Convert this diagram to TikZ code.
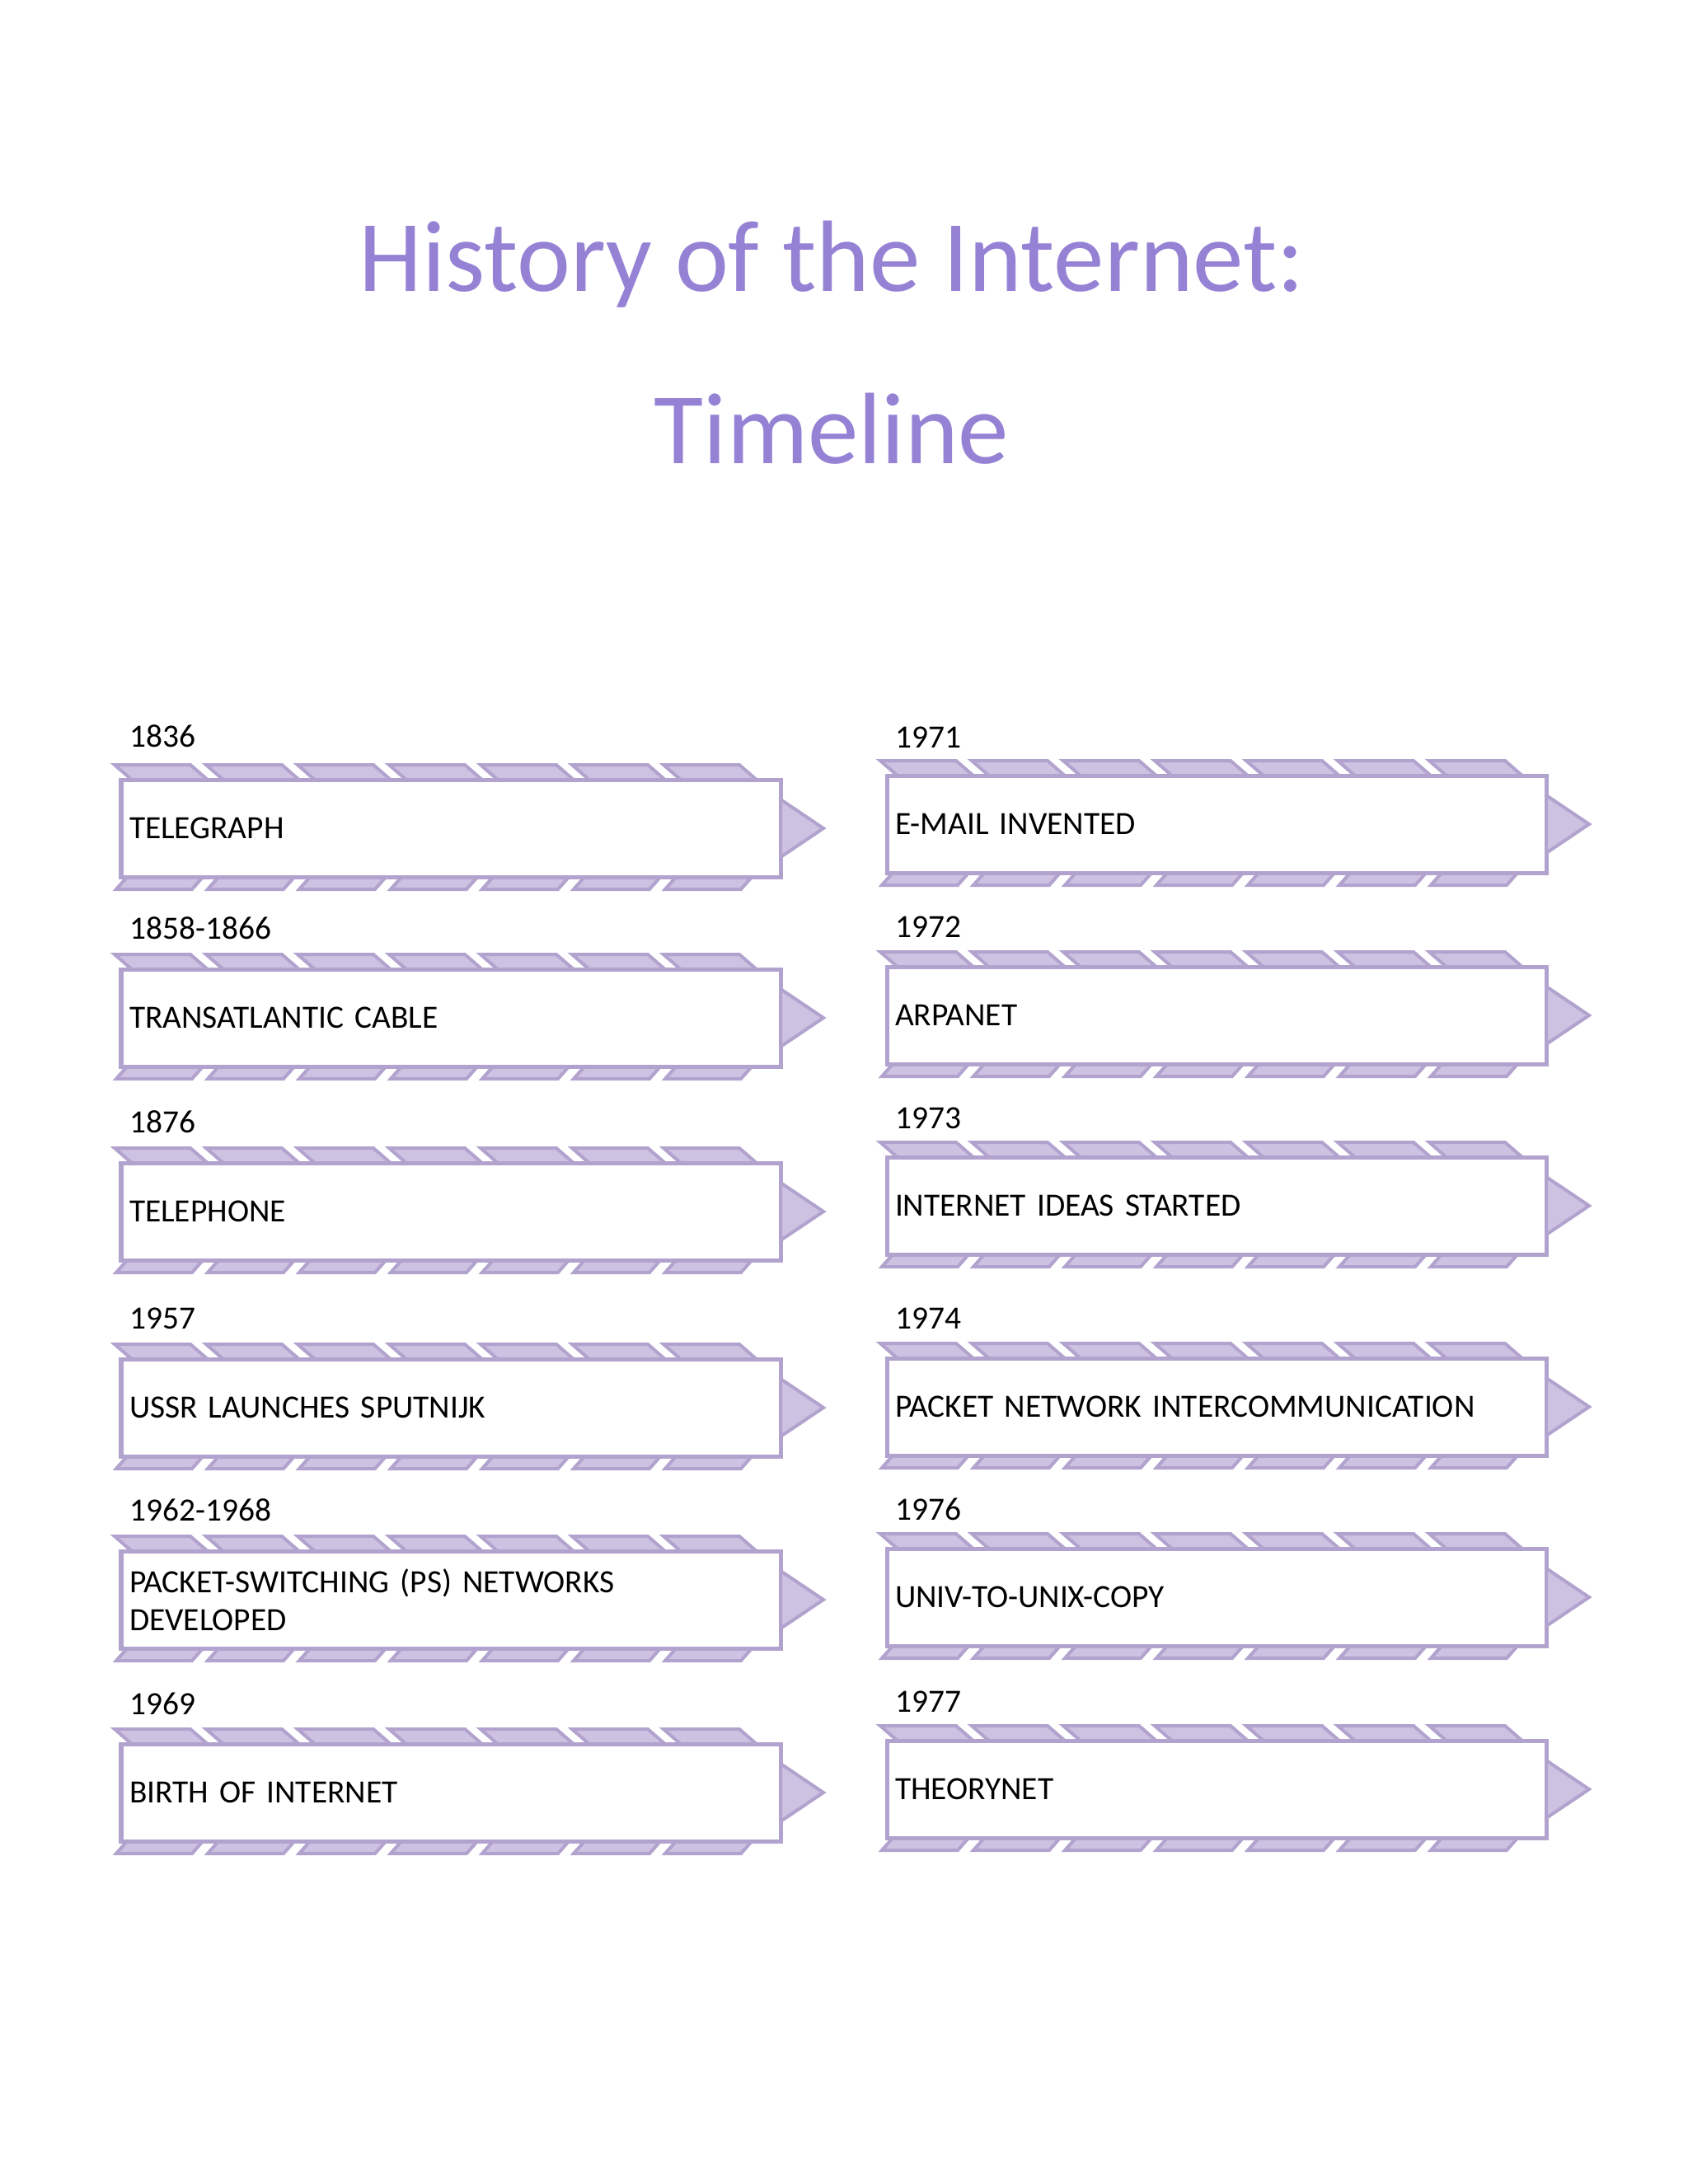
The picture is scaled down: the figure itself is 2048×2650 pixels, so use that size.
\documentclass[tikz,border=0pt]{standalone}
\usepackage{fontspec}
\setmainfont{Carlito}
\definecolor{tlborder}{RGB}{178,162,206}
\definecolor{tlfill}{RGB}{206,194,226}
\definecolor{titlecol}{RGB}{150,130,212}
\tikzset{
  tlbox/.style={draw=tlborder, line width=0.05cm, fill=white, rectangle, anchor=north west,
    minimum width=8cm, minimum height=1.18cm, text width=7.8cm, inner xsep=0.1cm, inner ysep=0pt,
    outer sep=0pt, align=left, font=\fontsize{11.2pt}{13.1pt}\selectfont},
  tltab/.style={draw=tlborder, fill=tlfill, line width=0.04cm, line join=miter},
  tlyear/.style={anchor=base west, inner sep=0pt, font=\fontsize{11.2pt}{13.1pt}\selectfont},
  titletext/.style={text=titlecol, font=\fontsize{35pt}{40pt}\selectfont}
}
% #1 name, #2 x, #3 box top, #4 year baseline, #5 year, #6 text
\newcommand\tlitem[6]{%
  \foreach \i in {0,...,6}{%
    \draw[tltab] ({#2-8+\i*111},{#3-18}) -- ++(92,0) -- ++(23,20) -- ++(-92,0) -- cycle;
    \draw[tltab] ({#2-6+\i*111},{#3+118+15}) -- ++(92,0) -- ++(15,-17) -- ++(-92,0) -- cycle;
  }
  \node[tlbox] (#1) at (#2,#3) {#6};
  \draw[tltab] ({#2+800},{#3+59-35}) -- ({#2+852},{#3+59}) -- ({#2+800},{#3+59+35}) -- cycle;
  \node[tlyear] (#1y) at ({#2+10},{#4}) {#5};
}
\begin{document}
\begin{tikzpicture}[x=0.01cm,y=-0.01cm]
\useasboundingbox[fill=white] (0,0) rectangle (2048,2650);
% title
\node[titletext] (t1) at (1009,321) {History of the Internet:};
\node[titletext] (t2) at (1009,520) {Timeline};
% left column
\tlitem{a1}{147}{946}{906}{1836}{TELEGRAPH}
\tlitem{a2}{147}{1176}{1139}{1858-1866}{TRANSATLANTIC CABLE}
\tlitem{a3}{147}{1411}{1374}{1876}{TELEPHONE}
\tlitem{a4}{147}{1649}{1612}{1957}{USSR LAUNCHES SPUTNIJK}
\tlitem{a5}{147}{1882}{1845}{1962-1968}{PACKET-SWITCHING (PS) NETWORKS\\DEVELOPED}
\tlitem{a6}{147}{2116}{2080}{1969}{BIRTH OF INTERNET}
% right column
\tlitem{b1}{1076}{941}{907}{1971}{E-MAIL INVENTED}
\tlitem{b2}{1076}{1173}{1137}{1972}{ARPANET}
\tlitem{b3}{1076}{1404}{1369}{1973}{INTERNET IDEAS STARTED}
\tlitem{b4}{1076}{1648}{1612}{1974}{PACKET NETWORK INTERCOMMUNICATION}
\tlitem{b5}{1076}{1879}{1844}{1976}{UNIV-TO-UNIX-COPY}
\tlitem{b6}{1076}{2112}{2077}{1977}{THEORYNET}
\end{tikzpicture}
\end{document}
